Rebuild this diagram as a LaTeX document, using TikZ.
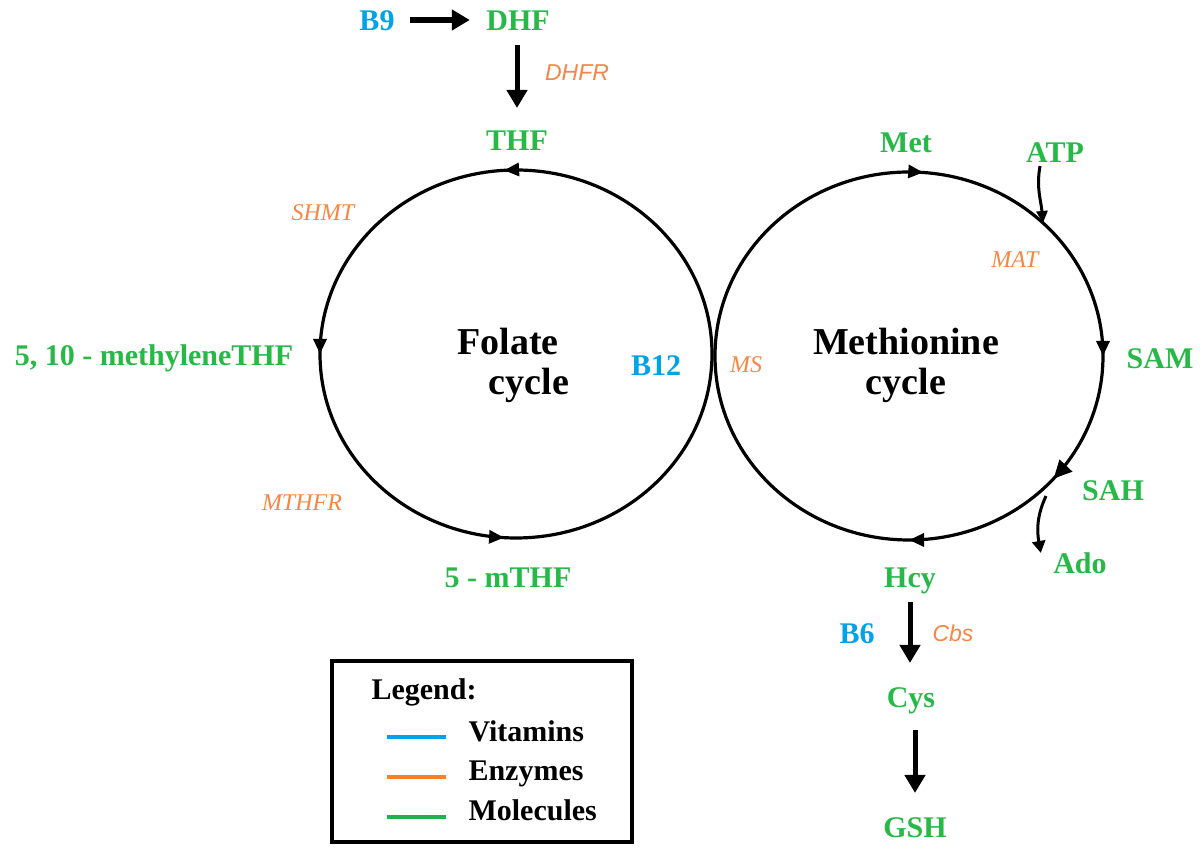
\documentclass[tikz,border=0pt]{standalone}
\usepackage{fontspec}
\setmainfont{Liberation Serif}
\newfontfamily\arialfont{Liberation Sans}
\usetikzlibrary{arrows.meta,decorations.markings}

\definecolor{vitblue}{RGB}{0,162,232}
\definecolor{enzorange}{RGB}{247,134,70}
\definecolor{molgreen}{RGB}{38,185,72}
\definecolor{legorange}{RGB}{255,127,39}
\definecolor{leggreen}{RGB}{34,177,76}

\begin{document}
\begin{tikzpicture}[x=1pt, y=1pt,
    mol/.style={text=molgreen, font=\fontsize{30}{34}\selectfont\bfseries, text height=21pt, text depth=0pt},
    vit/.style={text=vitblue, font=\fontsize{30}{34}\selectfont\bfseries, text height=21pt, text depth=0pt},
    enz/.style={text=enzorange, font=\fontsize{24}{28}\selectfont\itshape},
    enzsans/.style={text=enzorange, font=\fontsize{23}{28}\selectfont\arialfont\itshape},
    cyc/.style={font=\fontsize{38}{40}\selectfont\bfseries, align=center},
    leg/.style={font=\fontsize{30}{34}\selectfont\bfseries, anchor=base west},
    flow/.style={-{Triangle[length=18pt,width=20pt]}, line width=5pt},
    ring/.style={line width=3.2pt, postaction={decorate}},
    ringtip/.tip={Triangle[length=15pt,width=13pt]}
]
\useasboundingbox (0,0) rectangle (1200,850);

% =============================================
% ENTRADA: B9 -> DHF -> THF
% =============================================
\node[vit] (b9) at (377,830) {B9};
\node[mol] (dhf) at (518,830) {DHF};
\node[mol] (thf) at (517,710) {THF};
\node[enzsans] (dhfr) at (577,777) {DHFR};
\draw[flow, line width=6pt, shorten <=12pt, shorten >=13pt] (b9.east) -- (dhf.west);
\draw[flow, shorten <=11pt, shorten >=18pt] (dhf.south -| thf.north) -- (thf.north);

% =============================================
% CICLO DEL FOLATO
% =============================================
\draw[ring, decoration={markings,
    mark=at position 0.26 with {\arrow{ringtip}},
    mark=at position 0.5 with {\arrow{ringtip}},
    mark=at position 0.74 with {\arrow{ringtip}}}]
    (516,496) ellipse [x radius=196, y radius=184];
\node[cyc] (folate) at (508,485) {Folate\\\hspace*{1.1em}cycle};
\node[enz] (shmt) at (323,637) {SHMT};
\node[mol] (methylene) at (154,495) {5, 10 - methyleneTHF};
\node[enz] (mthfr) at (302,347) {MTHFR};
\node[mol] (mthf) at (508,273) {5 - mTHF};
\node[vit] (b12) at (656,485) {B12};

% =============================================
% CICLO DE LA METIONINA
% =============================================
\draw[ring, decoration={markings,
    mark=at position 0.012 with {\arrow{ringtip}},
    mark=at position 0.25 with {\arrow{ringtip}},
    mark=at position 0.364 with {\arrow{Triangle[length=18pt,width=17pt]}},
    mark=at position 0.5 with {\arrow{ringtip}}}]
    (909,678) arc[start angle=90, end angle=-270, x radius=194, y radius=184];
\node[cyc] (methionine) at (906,485) {Methionine\\cycle};
\node[enz] (ms) at (746,485) {MS};
\node[mol] (met) at (906,708) {Met};
\node[mol] (atp) at (1055,698) {ATP};
\node[enz] (mat) at (1015,590) {MAT};
\node[mol] (sam) at (1160,492) {SAM};
\node[mol] (sah) at (1113,360) {SAH};
\node[mol] (ado) at (1080,287) {Ado};

% Entradas y salidas sobre el anillo
\coordinate (matpt) at (1043,627);
\coordinate (sahpt) at (1046,354);
\draw[-{Triangle[length=12pt,width=11pt]}, line width=3pt]
    ([xshift=-15pt]atp.south) to[out=-100, in=95] (matpt);
\draw[-{Triangle[length=12pt,width=13pt]}, line width=3pt]
    (sahpt) to[out=-115, in=100] ([xshift=-9pt, yshift=-4pt]ado.north west);

% =============================================
% TRANSULFURACION: Hcy -> Cys -> GSH
% =============================================
\node[mol] (hcy) at (910,273) {Hcy};
\node[vit] (b6) at (857,217) {B6};
\node[enzsans] (cbs) at (953,217) {Cbs};
\node[mol] (cys) at (911,153) {Cys};
\node[mol] (gsh) at (915,23) {GSH};
\draw[flow, shorten <=11pt, shorten >=20pt] (hcy.south) -- (hcy.south |- cys.north);
\draw[flow, shorten <=19pt, shorten >=20pt] (cys.south -| gsh.north) -- (gsh.north);

% =============================================
% LEYENDA
% =============================================
\node[draw, line width=3.5pt, minimum width=300pt, minimum height=181pt] (legend) at (482,98.5) {};
\node[leg] (legtitle) at (368,150) {Legend:};
\draw[vitblue, line width=4pt] (387,113) -- (446,113);
\node[leg] (legvit) at (465,108) {Vitamins};
\draw[legorange, line width=4pt] (387,73) -- (446,73);
\node[leg] (legenz) at (465,69) {Enzymes};
\draw[leggreen, line width=4pt] (387,33) -- (446,33);
\node[leg] (legmol) at (465,29) {Molecules};

\end{tikzpicture}
\end{document}
